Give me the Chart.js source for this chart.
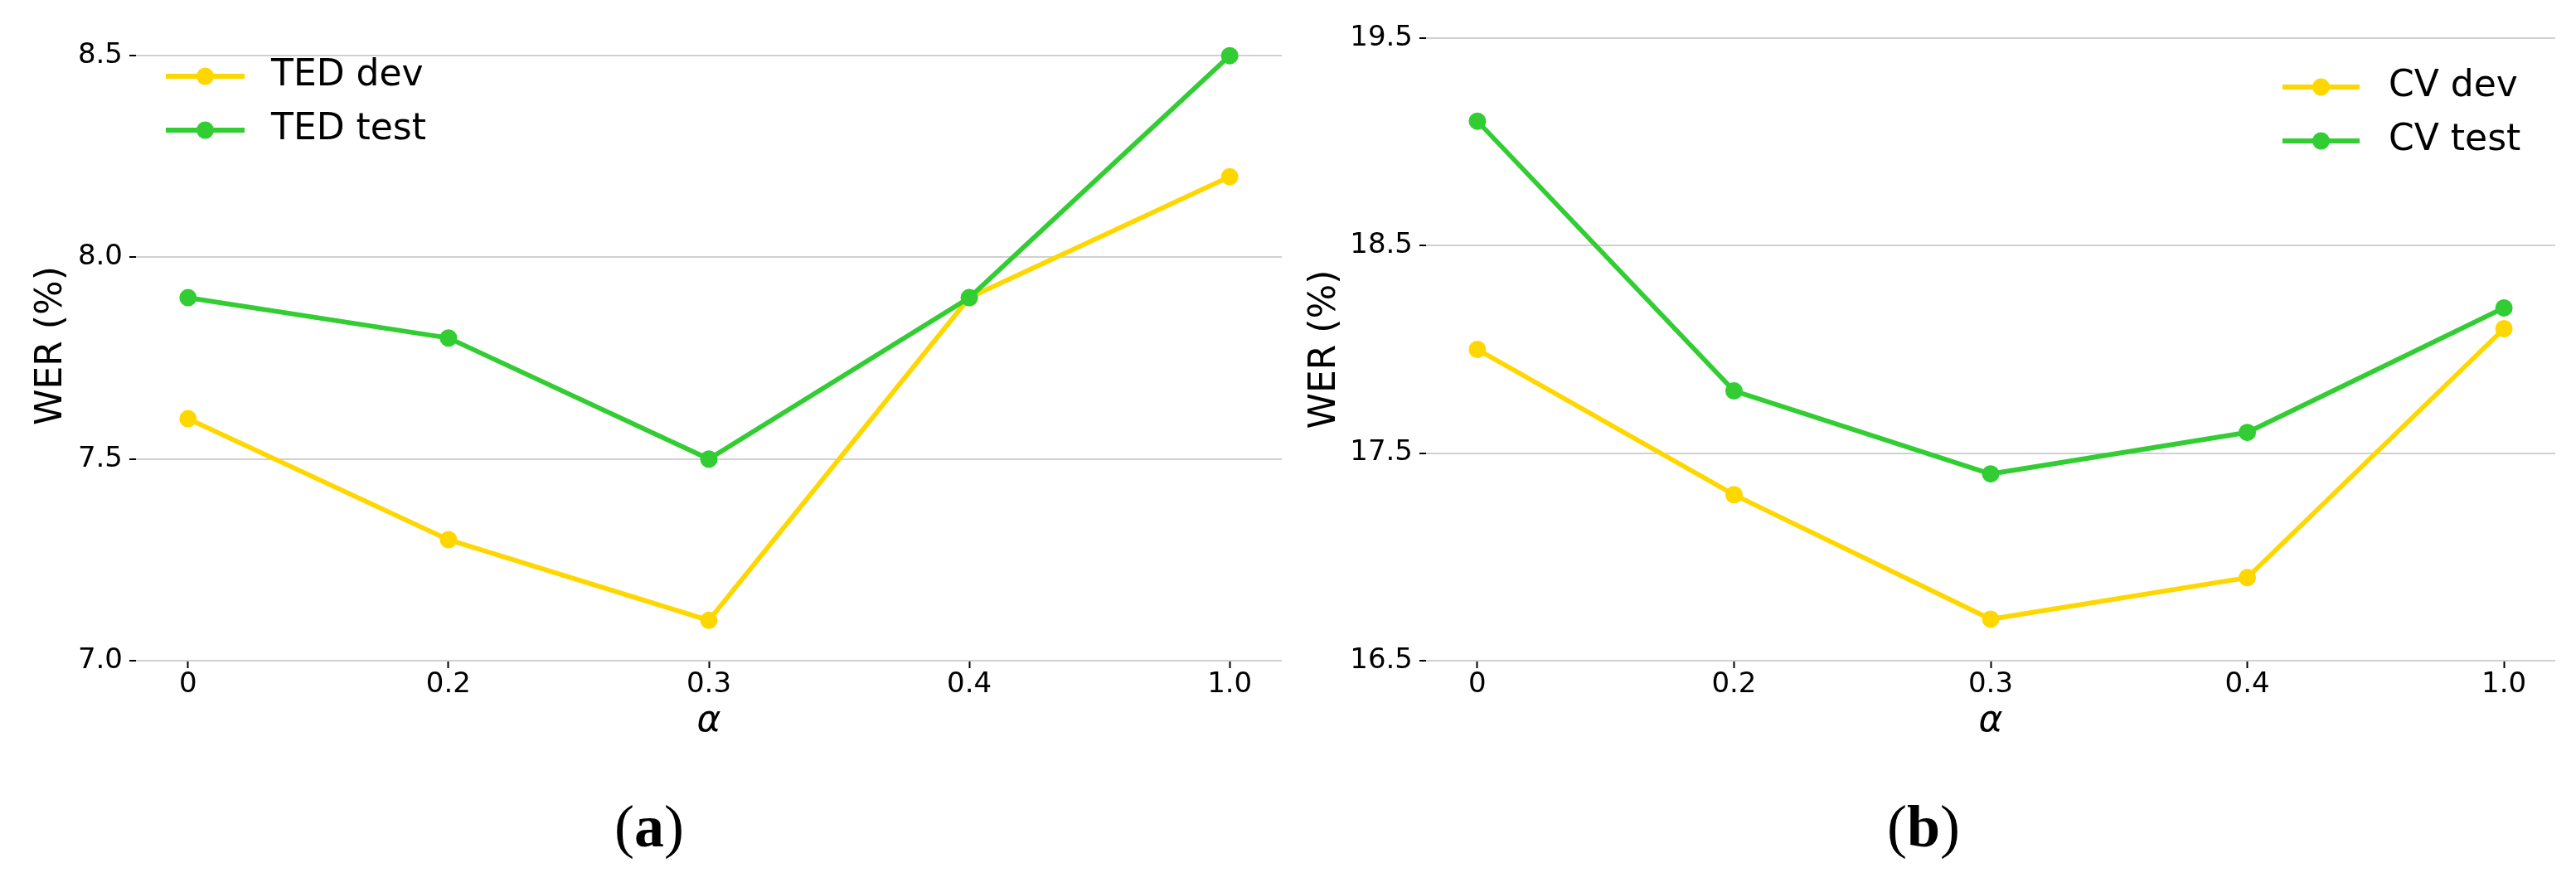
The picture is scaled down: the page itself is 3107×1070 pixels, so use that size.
<!DOCTYPE html>
<html>
<head>
<meta charset="utf-8">
<script src="https://cdn.jsdelivr.net/npm/chart.js@4.4.1/dist/chart.umd.min.js"></script>
<style>
  html,body{margin:0;padding:0;background:#fff;}
  body{width:3107px;height:1070px;position:relative;overflow:hidden;}
  canvas{position:absolute;top:0;}
  #ca{left:0}
  #cb{left:1560px}
  .cap{position:absolute;top:961px;font-family:"Liberation Serif",serif;font-size:72px;line-height:72px;transform:translateX(-50%);white-space:nowrap;color:#000;}
</style>
</head>
<body>
<canvas id="ca" width="1560" height="900"></canvas>
<canvas id="cb" width="1547" height="900"></canvas>
<div class="cap" style="left:783px">(<b>a</b>)</div>
<div class="cap" style="left:2320px">(<b>b</b>)</div>
<script>
const alphas = ['0','0.2','0.3','0.4','1.0'];
const tedDev  = [7.6, 7.3, 7.1, 7.9, 8.2];
const tedTest = [7.9, 7.8, 7.5, 7.9, 8.5];
const cvDev   = [18.0, 17.3, 16.7, 16.9, 18.1];
const cvTest  = [19.1, 17.8, 17.4, 17.6, 18.2];
const tedTicks = [7.0, 7.5, 8.0, 8.5];
const cvTicks  = [16.5, 17.5, 18.5, 19.5];

const YELLOW = '#FFD700', GREEN = '#32CD32';
const FONT = 'DejaVu Sans';

// legend drawn inside the plot: line with a dot, then the label
const lineLegend = {
  id:'lineLegend',
  afterDraw(chart, args, o){
    const {ctx} = chart;
    ctx.save();
    chart.data.datasets.forEach((ds,i)=>{
      const y = o.y + i*o.gap;
      ctx.strokeStyle = ds.borderColor; ctx.lineWidth = 6;
      ctx.beginPath(); ctx.moveTo(o.x, y); ctx.lineTo(o.x+o.w, y); ctx.stroke();
      ctx.fillStyle = ds.borderColor;
      ctx.beginPath(); ctx.arc(o.x+o.w/2, y, 10.5, 0, Math.PI*2); ctx.fill();
      ctx.fillStyle = '#000'; ctx.font = `44px "${FONT}"`; ctx.textBaseline = 'middle'; ctx.textAlign = 'left';
      ctx.fillText(ds.label, o.tx, y);
    });
    ctx.restore();
  }
};

const pts = vals => vals.map((v,i)=>({x:i, y:v}));

function ds(label, vals, color, order){
  return { label, data:pts(vals), borderColor:color, backgroundColor:color,
    borderWidth:5.75, pointRadius:10.5, pointHoverRadius:10.5, pointBorderWidth:0,
    pointBackgroundColor:color, tension:0, clip:false, order };
}

function makeChart(id, sets, c){
  new Chart(document.getElementById(id), {
    type:'line',
    data:{ datasets:sets },
    plugins:[lineLegend],
    options:{
      responsive:false, animation:false, events:[],
      layout:{ padding:{left:0, top:c.top, right:c.right, bottom:0} },
      plugins:{ legend:{display:false}, tooltip:{enabled:false}, lineLegend:c.legend },
      scales:{
        x:{
          type:'linear', min:-0.2, max:4.2,
          afterBuildTicks: s => { s.ticks = alphas.map((_,i)=>({value:i})); },
          afterFit: s => { s.height = 103; },
          ticks:{ callback: v => alphas[v], font:{family:FONT, size:34}, color:'#000', padding:0, maxRotation:0, autoSkip:false },
          grid:{ drawOnChartArea:false, tickColor:'#000', tickLength:9, tickWidth:2 },
          border:{display:false},
          title:{ display:true, text:'α', color:'#000', font:{family:FONT, size:44, style:'italic'}, padding:{top:0, bottom:3} }
        },
        y:{
          min:c.min, max:c.max,
          afterBuildTicks: s => { s.ticks = c.ticks.map(v=>({value:v})); },
          afterFit: s => { s.width = c.yw; },
          ticks:{ callback: v => v.toFixed(1), font:{family:FONT, size:34}, color:'#000', padding:8 },
          grid:{ color:'#d0d0d0', lineWidth:2, tickColor:'#000', tickLength:8, tickWidth:2 },
          border:{display:false},
          title:{ display:true, text:'WER (%)', color:'#000', font:{family:FONT, size:44}, padding:{top:c.tp, bottom:0} }
        }
      }
    }
  });
}

makeChart('ca', [ds('TED dev', tedDev, YELLOW, 1), ds('TED test', tedTest, GREEN, 0)], {
  min:7.0, max:8.562, ticks:tedTicks, top:37, right:14, yw:164, tp:36,
  legend:{x:200, y:92, w:95, gap:65, tx:327}
});

makeChart('cb', [ds('CV dev', cvDev, YELLOW, 1), ds('CV test', cvTest, GREEN, 0)], {
  min:16.5, max:19.5, ticks:cvTicks, top:46, right:25, yw:160, tp:12,
  legend:{x:1193, y:105, w:93, gap:65, tx:1321}
});
</script>
</body>
</html>
